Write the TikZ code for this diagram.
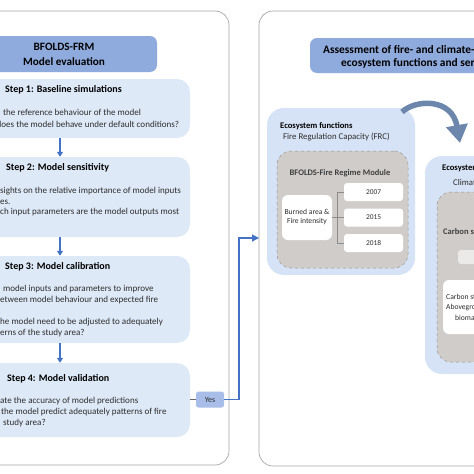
\documentclass[tikz,border=0pt]{standalone}
\usepackage{fontspec}
\setmainfont{Carlito}
\usetikzlibrary{arrows.meta,fit}
\definecolor{hdr}{RGB}{143,170,220}
\definecolor{steplt}{RGB}{222,233,247}
\definecolor{ecolt}{RGB}{214,226,245}
\definecolor{grayfill}{RGB}{207,204,202}
\definecolor{graydash}{RGB}{150,148,146}
\definecolor{arrblue}{RGB}{68,114,196}
\definecolor{yesblue}{RGB}{168,190,232}
\definecolor{curvec}{RGB}{108,134,172}
\definecolor{curvelt}{RGB}{140,162,196}
\definecolor{txt}{RGB}{45,45,45}
\tikzset{
  panel/.style={draw=black!35,line width=0.7pt,fill=white,rounded corners=14pt,inner sep=0pt},
  hdrbox/.style={fill=hdr,rounded corners=7pt,inner sep=0pt},
  stepbox/.style={fill=steplt,rounded corners=13pt,inner sep=0pt},
  ecobox/.style={fill=ecolt,rounded corners=17pt,inner sep=0pt},
  graybox/.style={fill=grayfill,draw=graydash,dashed,line width=0.5pt,rounded corners=14pt,inner sep=0pt},
  whitebox/.style={fill=white,rounded corners=6pt,inner sep=0pt},
  yearbox/.style={fill=white,rounded corners=3pt,inner sep=0pt,minimum width=59pt,minimum height=18pt,font=\fontsize{7.4}{8}\selectfont,text=txt},
  yesbox/.style={fill=yesblue,rounded corners=2.5pt,inner sep=0pt,minimum width=28pt,minimum height=16pt,font=\fontsize{8}{9}\selectfont,text=txt},
  steptitle/.style={anchor=west,inner sep=0pt,font=\bfseries\fontsize{10}{12}\selectfont},
  body/.style={anchor=west,inner sep=0pt,font=\fontsize{9.05}{10}\selectfont,text=txt},
  steparrow/.style={draw=arrblue,line width=1.6pt,-{Triangle[width=6pt,length=5pt]}},
  blueline/.style={draw=arrblue,line width=1.3pt,-{Triangle[width=7pt,length=7pt]}},
  brk/.style={draw=black!45,line width=0.6pt},
  modtitle/.style={inner sep=0pt,font=\bfseries\fontsize{8.5}{10}\selectfont,text=black!75},
  smalltxt/.style={inner sep=0pt,font=\fontsize{7.6}{9}\selectfont,text=txt},
}
\begin{document}
\begin{tikzpicture}[x=1pt,y=-1pt]
\useasboundingbox (0,0) rectangle (474,474);
\clip (0,0) rectangle (474,474);
\fill[white] (0,0) rectangle (474,474);
% panels
\node[panel,fit={(-40,11)(229,465)}] (lp) {};
\node[panel,fit={(259,11)(580,466)}] (rp) {};
% left header
\node[hdrbox,fit={(-30,36)(157,72)}] (lh) {};
\node[align=center,inner sep=0pt,font=\bfseries\fontsize{11.2}{15}\selectfont] (lht) at (64,54.5) {BFOLDS-FRM\\Model evaluation};
% steps
\node[stepbox,fit={(-70,79)(190,138)}] (s1) {};
\node[stepbox,fit={(-70,157)(190,237)}] (s2) {};
\node[stepbox,fit={(-70,256)(190,343)}] (s3) {};
\node[stepbox,fit={(-70,363)(190,437)}] (s4) {};
\node[steptitle] (t1) at (5,90) {Step 1: Baseline simulations};
\node[body] (b11) at (3,112) {the reference behaviour of the model};
\node[body] (b12) at (-3.5,124) {does the model behave under default conditions?};
\node[steptitle] (t2) at (6,168) {Step 2: Model sensitivity};
\node[body] (b21) at (0,191) {sights on the relative importance of model inputs};
\node[body] (b22) at (0,202) {es.};
\node[body] (b23) at (0,212) {ch input parameters are the model outputs most};
\node[steptitle] (t3) at (5,267) {Step 3: Model calibration};
\node[body] (b31) at (3,289) {model inputs and parameters to improve};
\node[body] (b32) at (0,300) {etween model behaviour and expected fire};
\node[body] (b33) at (0,322) {he model need to be adjusted to adequately};
\node[body] (b34) at (0,333) {erns of the study area?};
\node[steptitle] (t4) at (7,379) {Step 4: Model validation};
\node[body] (b41) at (0,401) {ate the accuracy of model predictions};
\node[body] (b42) at (1,412) {the model predict adequately patterns of fire};
\node[body] (b43) at (3,423) {study area?};
\draw[steparrow] (s1) -- (s2);
\draw[steparrow] (s2) -- (s3);
\draw[steparrow] (s3) -- (s4);
% yes
\node[yesbox] (yes) at (210,399.5) {Yes};
\draw[draw=black!60,line width=0.6pt] (s4.east |- yes) -- (yes.west);
\coordinate (bend) at (239,238);
\coordinate (entry) at (259,238);
\draw[blueline] (yes.east) -| (bend) -- (entry);
% right header
\node[hdrbox,fit={(310,38)(580,73)}] (rh) {};
\node[anchor=west,inner sep=0pt,font=\bfseries\fontsize{11.4}{13}\selectfont] (rh1) at (323,50) {Assessment of fire- and climate-related};
\node[anchor=west,inner sep=0pt,font=\bfseries\fontsize{11.4}{13}\selectfont] (rh2) at (341,63.5) {ecosystem functions and services};
% ecosystem functions
\node[ecobox,fit={(267,108)(415,275)}] (ef) {};
\node[anchor=west,inner sep=0pt,font=\bfseries\fontsize{8.6}{10}\selectfont] (eft) at (280,126) {Ecosystem functions};
\node[inner sep=0pt,font=\fontsize{8.8}{10}\selectfont,text=txt] (frc) at (336.5,137.5) {Fire Regulation Capacity (FRC)};
\node[graybox,fit={(277,151)(408,268)}] (gm) {};
\node[modtitle] (gmt) at (340,173) {BFOLDS-Fire Regime Module};
\node[whitebox,fit={(282,195)(332,240)}] (burn) {};
\node[smalltxt,align=center,font=\fontsize{7.6}{8.8}\selectfont] (burnt) at (307,217) {Burned area \&\\Fire intensity};
\node[yearbox] (y07) at (373.5,192) {2007};
\node[yearbox] (y15) at (373.5,217.5) {2015};
\node[yearbox] (y18) at (373.5,243) {2018};
\coordinate (bx) at (337,217.5);
\draw[brk] (burn.east) -- (y15.west);
\draw[brk] (y07.west) -| (bx);
\draw[brk] (y18.west) -| (bx);
% right ecosystem services
\node[ecobox,fit={(425,156)(580,374)}] (es) {};
\node[anchor=west,inner sep=0pt,font=\bfseries\fontsize{8.6}{10}\selectfont] (est) at (442,168) {Ecosystem services};
\node[anchor=west,inner sep=0pt,font=\fontsize{8.8}{10}\selectfont,text=txt] (clim) at (453,183) {Climate regulation};
\node[graybox,fit={(437,192)(580,362)}] (gs) {};
\node[modtitle,anchor=west] (cst) at (443,232) {Carbon stocks};
\node[fill=white,fill opacity=0.6,rounded corners=3pt,inner sep=0pt,fit={(458,250)(580,264)}] (faint) {};
\node[whitebox,fit={(443,280)(580,334)}] (cbox) {};
\node[smalltxt,anchor=west] (cb1) at (446,297) {Carbon stock:};
\node[smalltxt,anchor=west] (cb2) at (446,308) {Aboveground};
\node[smalltxt,anchor=west] (cb3) at (455,318) {biomass};
% curved arrow
\coordinate (ca1) at (402,112);
\coordinate (ca2) at (460,143);
\draw[curvec,line width=5.5pt,-{Triangle[width=21pt,length=18pt]}] (ca1) .. controls (416,99) and (452,98) .. (ca2);
\end{tikzpicture}
\end{document}
